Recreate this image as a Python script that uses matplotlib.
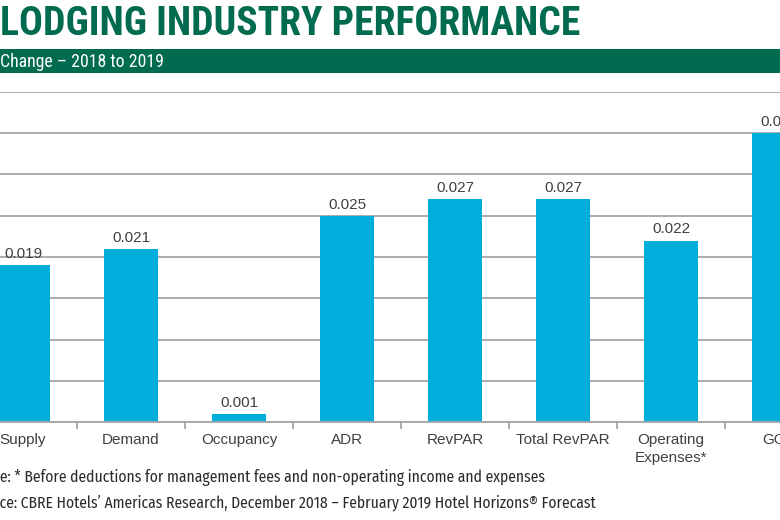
import matplotlib.pyplot as plt
from matplotlib.patches import Rectangle
from matplotlib.ticker import MultipleLocator

categories = ["Supply", "Demand", "Occupancy", "ADR", "RevPAR", "Total RevPAR",
              "Operating\nExpenses*", "GOP"]
values = [0.019, 0.021, 0.001, 0.025, 0.027, 0.027, 0.022, 0.035]

title = "LODGING INDUSTRY PERFORMANCE"
subtitle = "Change \u2013 2018 to 2019"
note = "Note: * Before deductions for management fees and non-operating income and expenses"
source = ("Source: CBRE Hotels\u2019 Americas Research, December 2018 \u2013 "
          "February 2019 Hotel Horizons\u00ae Forecast")

GREEN = "#006B4F"
BLUE = "#00AEDB"
GRID = "#A6A6A6"
TEXT = "#404040"
NARROW = ["Roboto Condensed", "PT Sans Narrow", "DejaVu Sans"]
FOOT = ["Fira Sans Condensed", "PT Sans Narrow", "DejaVu Sans"]
REG = ["Liberation Sans", "DejaVu Sans"]

W, H = 780, 520
fig = plt.figure(figsize=(W / 100, H / 100), dpi=100)

# heading and green band
fig.text(0.0, 1 - 35 / H, title, fontsize=28.5, fontweight="bold", color=GREEN,
         family=NARROW, va="baseline", ha="left")
fig.patches.append(Rectangle((0, 1 - 73 / H), 1, 24 / H, transform=fig.transFigure,
                             facecolor=GREEN, edgecolor="none", zorder=0))
fig.text(0.0, 1 - 67 / H, subtitle, fontsize=12.8, color="white", family=NARROW,
         va="baseline", ha="left")

# chart area (left part of the chart is cropped off)
ax = fig.add_axes([0, 98 / H, 1, 330 / H])
x = list(range(len(categories)))
bars = ax.bar(x, values, width=0.5, color=BLUE, zorder=2)
for rect, v in zip(bars, values):
    ax.annotate(f"{v:.3f}", (rect.get_x() + rect.get_width() / 2, v),
                xytext=(0, 3), textcoords="offset points", ha="center", va="bottom",
                fontsize=11, color=TEXT, family=REG)

ax.set_xlim(-0.213, 7.009)
ax.set_ylim(0, 0.040)
ax.yaxis.set_major_locator(MultipleLocator(0.005))
ax.grid(axis="y", color=GRID, linewidth=1.3, zorder=0)
ax.set_axisbelow(True)
ax.tick_params(axis="y", left=False, labelleft=False)
for side in ("left", "right", "top"):
    ax.spines[side].set_visible(False)
ax.spines["bottom"].set_color(GRID)
ax.spines["bottom"].set_linewidth(1.3)

ax.set_xticks(x)
ax.set_xticklabels(categories, fontsize=11, color=TEXT, family=REG, linespacing=1.35)
ax.set_xticks([i + 0.5 for i in x[:-1]], minor=True)
ax.tick_params(axis="x", which="major", length=0, pad=8)
ax.tick_params(axis="x", which="minor", length=5, color=GRID, width=1.3, direction="out")

# footnotes, cropped at the left edge like the reference
fig.canvas.draw()
renderer = fig.canvas.get_renderer()


def cropped_text(full, cut, y):
    probe = fig.text(0, y, cut, fontsize=11.2, family=FOOT)
    w = probe.get_window_extent(renderer).width
    probe.remove()
    fig.text(-w / W, y, full, fontsize=11.2, color="#2a2a2a", family=FOOT,
             va="baseline", ha="left")


cropped_text(note, "Not", 1 - 482 / H)
cropped_text(source, "Sour", 1 - 507 / H)

fig.savefig("out.png", dpi=100, facecolor="white")
